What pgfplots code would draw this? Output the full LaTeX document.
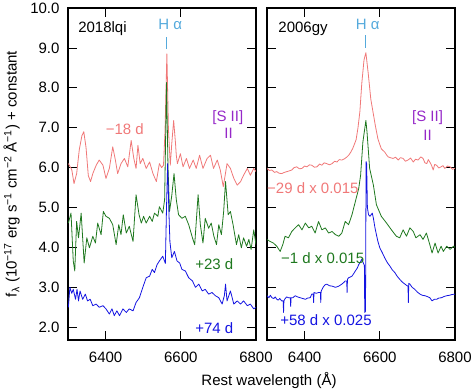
\documentclass[border=0pt]{standalone}
\usepackage{fontspec}
\setmainfont{Liberation Sans}
\usepackage{pgfplots}
\pgfplotsset{compat=1.18}
\definecolor{cred}{RGB}{240,120,120}
\definecolor{cgreen}{RGB}{30,120,30}
\definecolor{cblue}{RGB}{20,20,225}
\definecolor{cha}{RGB}{85,170,220}
\definecolor{cpur}{RGB}{150,40,200}
\pgfplotsset{
  specax/.style={
    scale only axis, width=188bp, height=332bp,
    xmin=6300, xmax=6800, ymin=1.68, ymax=10,
    xtick={6400,6600,6800}, ytick={2,3,...,10},
    tick align=inside, major tick length=9bp,
    axis line style={line width=1.6bp},
    every tick/.style={black, line width=0.8bp},
    font=\fontsize{15bp}{17bp}\selectfont,
    /pgf/number format/assume math mode=true,
    xticklabel style={/pgf/number format/set thousands separator={}, yshift=-9bp},
    yticklabel style={/pgf/number format/fixed, /pgf/number format/fixed zerofill, /pgf/number format/precision=1, xshift=-5bp},
    every axis plot/.append style={line width=0.8bp, line join=round},
  }
}
\begin{document}
\begin{tikzpicture}[font=\fontsize{15bp}{17bp}\selectfont]
\begin{axis}[specax, at={(68bp,49bp)}, anchor=south west,
  ylabel={f\textsubscript{λ} (10\textsuperscript{−17} erg s\textsuperscript{−1} cm\textsuperscript{−2} Å\textsuperscript{−1}) + constant},
  ylabel style={at={(axis description cs:-0.30,0.5)}, anchor=center}]
% -18 d
\addplot[cred] coordinates {
(6301,6.10)(6310,5.95)(6316,5.60)(6323,5.85)(6330,6.45)(6337,6.80)(6342,6.90)(6348,6.50)(6354,5.80)(6360,5.65)
(6366,5.85)(6375,6.06)(6383,6.19)(6393,6.06)(6401,5.73)(6410,5.98)(6419,6.52)(6426,6.19)(6432,5.85)(6441,6.10)
(6450,6.23)(6459,6.02)(6468,6.68)(6475,6.23)(6481,5.98)(6486,6.56)(6492,6.10)(6499,6.23)(6508,5.98)(6517,6.14)
(6526,5.85)(6535,5.65)(6543,6.10)(6549,6.00)(6554,6.06)(6558,6.90)(6563,8.85)(6567,7.00)(6572,6.06)(6576,6.60)
(6581,7.18)(6586,6.60)(6588,6.31)(6591,6.10)(6599,6.35)(6606,6.02)(6615,6.23)(6623,5.98)(6633,6.19)(6641,5.98)
(6650,6.31)(6659,5.98)(6670,6.23)(6679,6.31)(6687,5.98)(6697,6.19)(6705,5.94)(6713,5.52)(6723,6.10)(6732,5.98)
(6741,5.73)(6750,5.56)(6759,5.65)(6767,5.81)(6777,5.98)(6785,5.81)(6794,5.98)(6800,5.90)};
% +23 d
\addplot[cgreen] coordinates {
(6301,4.61)(6308,4.86)(6314,3.66)(6318,3.41)(6323,4.65)(6328,4.24)(6335,4.86)(6343,3.61)(6350,4.24)(6357,3.99)
(6366,4.28)(6373,4.11)(6379,4.61)(6388,4.32)(6394,4.90)(6401,4.78)(6410,4.73)(6419,4.57)(6428,4.07)(6435,4.57)
(6441,4.32)(6447,4.82)(6455,4.36)(6463,4.53)(6473,4.15)(6481,5.32)(6489,4.82)(6495,4.61)(6501,4.78)(6508,4.61)
(6517,4.78)(6524,4.65)(6530,4.86)(6539,4.78)(6543,5.02)(6552,4.86)(6557,5.20)(6562,8.13)(6566,6.00)(6570,4.90)
(6576,5.30)(6582,5.85)(6588,5.20)(6594,4.82)(6603,4.73)(6612,4.78)(6621,4.57)(6631,4.24)(6637,4.07)(6646,5.32)
(6652,4.57)(6659,4.11)(6665,4.73)(6674,4.48)(6681,4.61)(6688,4.28)(6695,4.07)(6701,4.57)(6708,4.32)(6714,4.90)
(6719,5.65)(6726,4.82)(6732,4.90)(6739,4.57)(6748,4.07)(6754,4.32)(6761,3.99)(6767,4.24)(6775,4.03)(6781,4.20)
(6787,3.95)(6794,4.44)(6800,4.07)};
% +74 d
\addplot[cblue] coordinates {
(6301,2.50)(6305,3.00)(6310,2.85)(6314,2.95)(6320,2.70)(6324,2.95)(6328,2.66)(6332,2.91)(6339,2.70)(6346,2.83)
(6352,2.66)(6359,2.70)(6366,2.54)(6375,2.58)(6383,2.50)(6393,2.54)(6401,2.46)(6410,2.33)(6417,2.46)(6423,2.29)
(6430,2.41)(6437,2.29)(6446,2.46)(6455,2.37)(6463,2.46)(6473,2.41)(6481,2.62)(6490,2.74)(6499,3.00)(6508,3.24)
(6517,3.28)(6524,3.45)(6530,3.37)(6537,3.57)(6543,3.66)(6552,3.78)(6559,3.60)(6562,5.00)(6565,6.10)(6568,5.00)
(6571,4.15)(6576,3.74)(6583,3.90)(6590,3.66)(6597,3.61)(6603,3.45)(6612,3.41)(6621,3.24)(6631,3.16)(6639,3.00)
(6648,3.08)(6657,2.91)(6665,2.95)(6674,2.83)(6683,2.87)(6692,2.79)(6701,2.74)(6710,2.58)(6716,2.80)(6719,3.08)
(6723,2.66)(6732,2.91)(6741,2.58)(6750,2.66)(6759,2.58)(6767,2.66)(6777,2.54)(6785,2.58)(6794,2.46)(6800,2.50)};
\node[anchor=west] at (axis cs:6318,9.48) {2018lqi};
\node[text=cha] at (axis cs:6572,9.58) {H α};
\draw[cha, line width=1.2bp] (axis cs:6563,8.97) -- (axis cs:6563,9.28);
\node[text=cpur] at (axis cs:6725,7.26) {[S II]};
\node[text=cpur] at (axis cs:6727,6.85) {II};
\node[text=cred] at (axis cs:6451,6.97) {−18 d};
\node[text=cgreen] at (axis cs:6689,3.58) {+23 d};
\node[text=cblue] at (axis cs:6689,1.97) {+74 d};
\end{axis}
\begin{axis}[specax, at={(267bp,49bp)}, anchor=south west, yticklabels={}]
% -29 d
\addplot[cred] coordinates {
(6300,5.98)(6306,5.93)(6313,5.94)(6320,5.88)(6326,5.90)(6332,5.86)(6339,5.85)(6346,5.88)(6353,5.90)(6360,5.92)
(6366,5.94)(6372,6.00)(6379,6.02)(6386,5.97)(6393,5.98)(6400,6.04)(6406,6.02)(6413,6.07)(6419,6.06)(6426,6.01)
(6433,6.02)(6440,6.09)(6446,6.06)(6452,6.12)(6459,6.10)(6466,6.07)(6473,6.10)(6480,6.16)(6486,6.14)(6492,6.20)
(6499,6.19)(6506,6.22)(6513,6.27)(6518,6.32)(6523,6.39)(6528,6.48)(6533,6.60)(6537,6.70)
(6542,7.00)(6547,7.40)(6552,8.10)(6558,8.70)(6563,8.88)(6569,8.38)(6576,7.72)(6582,7.39)(6588,7.06)(6595,6.72)
(6604,6.47)(6613,6.39)(6618,6.32)(6622,6.27)(6628,6.25)(6635,6.23)(6642,6.26)(6649,6.19)(6655,6.25)(6662,6.23)
(6668,6.16)(6675,6.19)(6682,6.24)(6689,6.14)(6695,6.21)(6702,6.19)(6709,6.27)(6715,6.23)
(6720,6.12)(6725,6.10)(6729,6.20)(6733,6.14)(6738,6.05)(6742,5.94)(6746,6.08)(6751,6.06)(6757,5.99)(6763,6.02)
(6768,6.05)(6773,5.98)(6780,6.04)(6787,6.02)(6793,5.96)(6800,5.98)};
% -1 d
\addplot[cgreen] coordinates {
(6300,4.20)(6308,4.15)(6317,4.11)(6326,4.03)(6335,3.90)(6342,4.07)(6348,4.28)(6357,4.24)(6366,4.40)(6375,4.49)
(6384,4.57)(6393,4.44)(6402,4.61)(6411,4.49)(6419,4.53)(6428,4.36)(6437,4.65)(6446,4.44)(6455,4.49)(6464,4.36)
(6473,4.40)(6482,4.32)(6491,4.28)(6499,4.36)(6508,4.65)(6517,4.57)(6526,4.82)(6535,5.15)(6544,5.48)(6549,5.81)
(6555,6.64)(6563,7.18)(6566,6.89)(6573,5.98)(6583,5.56)(6591,5.07)(6604,4.78)(6618,4.61)(6631,4.44)(6644,4.28)
(6653,4.24)(6662,4.44)(6671,4.28)(6680,4.49)(6689,4.40)(6696,4.24)(6707,4.32)(6715,4.20)(6724,4.36)(6733,4.07)
(6739,3.86)(6747,4.11)(6755,3.86)(6763,4.03)(6769,3.90)(6778,4.03)(6787,3.95)(6796,4.03)(6800,4.00)};
% +58 d
\addplot[cblue] coordinates {
(6300,2.79)(6305,2.74)(6309,2.80)(6313,2.74)(6318,2.72)(6322,2.76)(6326,2.70)(6330,2.68)(6334,2.72)(6339,2.66)
(6343,2.66)(6344,2.37)(6345,2.66)(6347,2.70)(6352,2.76)(6357,2.74)(6362,2.74)(6363,2.52)(6364,2.74)(6369,2.74)
(6375,2.79)(6381,2.76)(6388,2.74)(6395,2.72)(6402,2.70)(6408,2.73)(6415,2.74)(6419,2.83)(6423,2.83)(6424,2.62)
(6425,2.87)(6431,2.85)(6437,2.87)(6442,2.87)(6443,2.62)(6444,2.90)(6449,3.00)(6454,3.06)(6459,3.08)(6466,3.04)
(6473,3.03)(6482,3.00)(6491,3.03)(6499,3.08)(6504,3.12)(6508,3.16)(6512,3.16)(6513,2.87)(6514,3.20)(6517,3.24)
(6522,3.26)(6526,3.28)(6531,3.35)(6535,3.41)(6540,3.48)(6544,3.57)(6548,3.63)(6552,3.70)
(6559,3.55)(6560,2.37)(6562,2.40)(6563.5,6.15)(6565,6.10)(6567,5.00)(6570,4.82)(6574,4.78)(6580,4.86)(6583,4.73)
(6587,4.50)(6591,4.32)(6595,4.15)(6600,3.99)(6606,3.88)(6613,3.74)(6620,3.62)(6627,3.53)(6633,3.44)(6640,3.37)
(6646,3.28)(6653,3.20)(6660,3.13)(6667,3.08)(6671,3.05)(6675,3.03)(6676,2.62)(6677,3.10)(6680,3.08)(6686,3.00)
(6693,2.95)(6700,2.88)(6707,2.83)(6713,2.80)(6720,2.79)(6726,2.77)(6733,2.74)(6739,2.66)(6745,2.70)(6751,2.70)
(6757,2.73)(6764,2.74)(6771,2.77)(6778,2.79)(6785,2.80)(6792,2.82)(6800,2.83)};
\node[anchor=west] at (axis cs:6321,9.48) {2006gy};
\node[text=cha] at (axis cs:6568,9.59) {H α};
\draw[cha, line width=1.2bp] (axis cs:6563,9.0) -- (axis cs:6563,9.32);
\node[text=cpur] at (axis cs:6727,7.26) {[S II]};
\node[text=cpur] at (axis cs:6727,6.81) {II};
\node[text=cred] at (axis cs:6422,5.48) {−29 d x 0.015};
\node[text=cgreen] at (axis cs:6448,3.74) {−1 d x 0.015};
\node[text=cblue] at (axis cs:6457,2.18) {+58 d x 0.025};
\end{axis}
\node[anchor=base] at (269bp,4bp) {Rest wavelength (Å)};
\pgfresetboundingbox
\useasboundingbox (0,0) rectangle (474bp,389bp);
\end{tikzpicture}
\end{document}
